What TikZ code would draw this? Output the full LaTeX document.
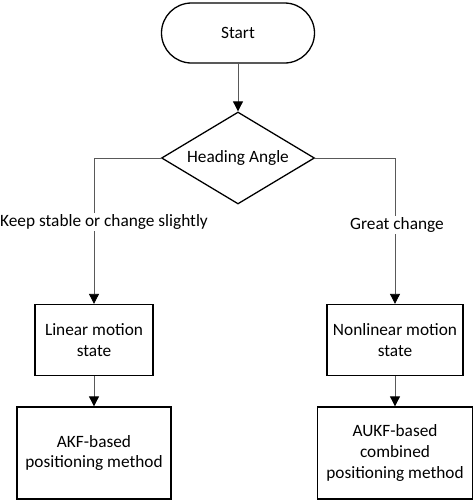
\documentclass[tikz,border=0pt]{standalone}
\usepackage{fontspec}
\setmainfont{Carlito}
\usetikzlibrary{positioning}
\usetikzlibrary{shapes.geometric}
\usetikzlibrary{arrows.meta}

\begin{document}
\begin{tikzpicture}[x=1pt, y=-1pt, font=\fontsize{17.3}{20.7}\selectfont]

    \tikzset{
        stepbox/.style={draw, line width=1.3pt, align=center, inner sep=2pt},
        flow/.style={-{Triangle[black, width=10pt, length=10pt]}, gray!70!black, line width=0.8pt},
        branch/.style={fill=white, inner sep=1.5pt}
    }

    \useasboundingbox (0,0) rectangle (474,501);

    % Start
    \node[stepbox, rounded corners=30pt, minimum width=153pt, minimum height=60pt] (start) at (238,33) {Start};

    % Decision
    \node[
        draw,
        diamond,
        line width=1.3pt,
        aspect=1.66,
        minimum width=153pt,
        minimum height=92pt,
        inner sep=0pt
    ] (angle) at (238,158) {Heading Angle};

    % States
    \node[stepbox, minimum width=118pt, minimum height=71pt] (linear) at (94,340) {Linear motion\\state};
    \node[stepbox, minimum width=136pt, minimum height=71pt] (nonlinear) at (395,340) {Nonlinear motion\\state};

    % Methods
    \node[stepbox, minimum width=154pt, minimum height=92pt] (akf) at (94,453) {AKF-based\\positioning method};
    \node[stepbox, minimum width=155pt, minimum height=92pt] (aukf) at (395,453) {AUKF-based\\combined\\positioning method};

    % Connectors
    \draw[flow] (start) -- (angle);
    \draw[flow] (angle.west) -| (linear.north);
    \draw[flow] (angle.east) -| (nonlinear.north);
    \draw[flow] (linear) -- (akf);
    \draw[flow] (nonlinear) -- (aukf);

    % Branch labels
    \node[branch] (keep) at (104,222) {Keep stable or change slightly};
    \node[branch] (great) at (397,225) {Great change};

\end{tikzpicture}
\end{document}
